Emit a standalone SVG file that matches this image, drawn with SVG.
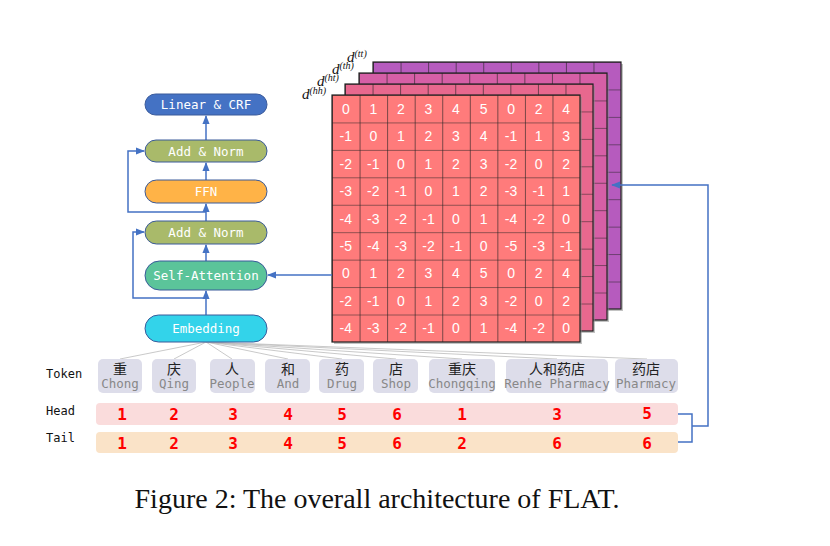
<svg xmlns="http://www.w3.org/2000/svg" width="830" height="546" viewBox="0 0 830 546">
<defs>
<style>
.n{stroke:#3a5a9a;stroke-width:1}
.nt{font-family:"DejaVu Sans Mono",monospace;font-size:12.5px;fill:#fff;text-anchor:middle}
.c{fill:none;stroke:#4472C4;stroke-width:1.5}
.g{fill:none;stroke:#bbb;stroke-width:0.8}
.tb{fill:#DDDDEA}
.zh{font-family:"Noto Sans CJK SC",sans-serif;font-size:14px;fill:#222;text-anchor:middle}
.en{font-family:"DejaVu Sans Mono",monospace;font-size:12.5px;fill:#888;text-anchor:middle}
.lb{font-family:"DejaVu Sans Mono",monospace;font-size:12px;fill:#111}
.num{font-family:"DejaVu Sans Mono",monospace;font-size:16px;fill:#f00;text-anchor:middle;font-weight:bold}
.mv{font-family:"Liberation Sans",sans-serif;font-size:14px;fill:#fff;text-anchor:middle}
.dl{font-family:"Liberation Serif",serif;font-style:italic;font-size:15px;fill:#111}
.sp{font-size:10px}
</style>
<marker id="a" viewBox="0 0 10 10" refX="9" refY="5" markerWidth="6" markerHeight="6" orient="auto"><path d="M0,1 L10,5 L0,9z" fill="#4472C4"/></marker>
<pattern id="p4" patternUnits="userSpaceOnUse" x="373" y="62" width="27.56" height="27.44"><path d="M0,0 H27.56 M0,0 V27.44" stroke="#222" fill="none" stroke-width="1.2"/></pattern>
<pattern id="p3" patternUnits="userSpaceOnUse" x="359" y="73" width="27.56" height="27.44"><path d="M0,0 H27.56 M0,0 V27.44" stroke="#222" fill="none" stroke-width="1.2"/></pattern>
<pattern id="p2" patternUnits="userSpaceOnUse" x="345" y="84" width="27.56" height="27.44"><path d="M0,0 H27.56 M0,0 V27.44" stroke="#222" fill="none" stroke-width="1.2"/></pattern>
<pattern id="p1" patternUnits="userSpaceOnUse" x="332" y="95" width="27.56" height="27.44"><path d="M0,0 H27.56 M0,0 V27.44" stroke="#222" fill="none" stroke-width="1.2"/></pattern>
</defs>
<rect width="830" height="546" fill="#fff"/>
<g id="matrix">
<rect x="375" y="64" width="248" height="247" fill="#888" opacity="0.5"/>
<rect x="373" y="62" width="248" height="247" fill="#B65BBE"/>
<rect x="373" y="62" width="248" height="247" fill="url(#p4)" stroke="#222" stroke-width="1.2"/>
<rect x="361" y="75" width="248" height="247" fill="#888" opacity="0.5"/>
<rect x="359" y="73" width="248" height="247" fill="#D65FA6"/>
<rect x="359" y="73" width="248" height="247" fill="url(#p3)" stroke="#222" stroke-width="1.2"/>
<rect x="347" y="86" width="248" height="247" fill="#888" opacity="0.5"/>
<rect x="345" y="84" width="248" height="247" fill="#E8688E"/>
<rect x="345" y="84" width="248" height="247" fill="url(#p2)" stroke="#222" stroke-width="1.2"/>
<rect x="334" y="97" width="248" height="247" fill="#888" opacity="0.5"/>
<rect x="332" y="95" width="248" height="247" fill="#FF7B7B"/>
<rect x="332" y="95" width="248" height="247" fill="url(#p1)" stroke="#222" stroke-width="1.2"/>
<text class="dl" x="347" y="62">d<tspan class="sp" dy="-5">(tt)</tspan></text>
<text class="dl" x="332" y="74">d<tspan class="sp" dy="-5">(th)</tspan></text>
<text class="dl" x="317" y="86">d<tspan class="sp" dy="-5">(ht)</tspan></text>
<text class="dl" x="302" y="99">d<tspan class="sp" dy="-5">(hh)</tspan></text>
<g class="mv">
<text x="345.8" y="113.7">0</text><text x="373.3" y="113.7">1</text><text x="400.9" y="113.7">2</text><text x="428.5" y="113.7">3</text><text x="456" y="113.7">4</text><text x="483.6" y="113.7">5</text><text x="511.1" y="113.7">0</text><text x="538.7" y="113.7">2</text><text x="566.2" y="113.7">4</text>
<text x="345.8" y="141.2">-1</text><text x="373.3" y="141.2">0</text><text x="400.9" y="141.2">1</text><text x="428.5" y="141.2">2</text><text x="456" y="141.2">3</text><text x="483.6" y="141.2">4</text><text x="511.1" y="141.2">-1</text><text x="538.7" y="141.2">1</text><text x="566.2" y="141.2">3</text>
<text x="345.8" y="168.6">-2</text><text x="373.3" y="168.6">-1</text><text x="400.9" y="168.6">0</text><text x="428.5" y="168.6">1</text><text x="456" y="168.6">2</text><text x="483.6" y="168.6">3</text><text x="511.1" y="168.6">-2</text><text x="538.7" y="168.6">0</text><text x="566.2" y="168.6">2</text>
<text x="345.8" y="196">-3</text><text x="373.3" y="196">-2</text><text x="400.9" y="196">-1</text><text x="428.5" y="196">0</text><text x="456" y="196">1</text><text x="483.6" y="196">2</text><text x="511.1" y="196">-3</text><text x="538.7" y="196">-1</text><text x="566.2" y="196">1</text>
<text x="345.8" y="223.5">-4</text><text x="373.3" y="223.5">-3</text><text x="400.9" y="223.5">-2</text><text x="428.5" y="223.5">-1</text><text x="456" y="223.5">0</text><text x="483.6" y="223.5">1</text><text x="511.1" y="223.5">-4</text><text x="538.7" y="223.5">-2</text><text x="566.2" y="223.5">0</text>
<text x="345.8" y="250.9">-5</text><text x="373.3" y="250.9">-4</text><text x="400.9" y="250.9">-3</text><text x="428.5" y="250.9">-2</text><text x="456" y="250.9">-1</text><text x="483.6" y="250.9">0</text><text x="511.1" y="250.9">-5</text><text x="538.7" y="250.9">-3</text><text x="566.2" y="250.9">-1</text>
<text x="345.8" y="278.3">0</text><text x="373.3" y="278.3">1</text><text x="400.9" y="278.3">2</text><text x="428.5" y="278.3">3</text><text x="456" y="278.3">4</text><text x="483.6" y="278.3">5</text><text x="511.1" y="278.3">0</text><text x="538.7" y="278.3">2</text><text x="566.2" y="278.3">4</text>
<text x="345.8" y="305.8">-2</text><text x="373.3" y="305.8">-1</text><text x="400.9" y="305.8">0</text><text x="428.5" y="305.8">1</text><text x="456" y="305.8">2</text><text x="483.6" y="305.8">3</text><text x="511.1" y="305.8">-2</text><text x="538.7" y="305.8">0</text><text x="566.2" y="305.8">2</text>
<text x="345.8" y="333.2">-4</text><text x="373.3" y="333.2">-3</text><text x="400.9" y="333.2">-2</text><text x="428.5" y="333.2">-1</text><text x="456" y="333.2">0</text><text x="483.6" y="333.2">1</text><text x="511.1" y="333.2">-4</text><text x="538.7" y="333.2">-2</text><text x="566.2" y="333.2">0</text>
</g>
</g>
<g id="connectors">
<path class="g" d="M206,342 L120,359 M206,342 L174,359 M206,342 L232,359 M206,342 L288,359 M206,342 L342,359 M206,342 L396,359 M206,342 L462,359 M206,342 L557,359 M206,342 L647,359"/>
<path class="c" d="M206,315 V291" marker-end="url(#a)"/>
<path class="c" d="M206,298 H133 V232 H144" marker-end="url(#a)"/>
<path class="c" d="M206,261 V245" marker-end="url(#a)"/>
<path class="c" d="M206,221 V204" marker-end="url(#a)"/>
<path class="c" d="M206,212 H128 V151 H144" marker-end="url(#a)"/>
<path class="c" d="M206,180 V163" marker-end="url(#a)"/>
<path class="c" d="M206,140 V116" marker-end="url(#a)"/>
<path class="c" d="M332,275 H268" marker-end="url(#a)"/>
<path class="c" d="M678,414 H692 V442 H678 M692,426 H708 V185 H612" marker-end="url(#a)"/>
</g>
<g id="linear"><rect class="n" x="145" y="94" width="122" height="21" rx="10.5" fill="#4472C4"/><text class="nt" x="206" y="109">Linear &amp; CRF</text></g>
<g id="addnorm2"><rect class="n" x="145" y="140" width="122" height="22" rx="11" fill="#A9BA6A"/><text class="nt" x="206" y="155.5">Add &amp; Norm</text></g>
<g id="ffn"><rect class="n" x="145" y="180" width="122" height="23" rx="11.5" fill="#FFB347"/><text class="nt" x="206" y="196">FFN</text></g>
<g id="addnorm1"><rect class="n" x="145" y="221" width="122" height="23" rx="11.5" fill="#A9BA6A"/><text class="nt" x="206" y="237">Add &amp; Norm</text></g>
<g id="selfatt"><rect class="n" x="145" y="261" width="122" height="29" rx="14.5" fill="#5BC49A"/><text class="nt" x="206" y="280" font-size="11.5">Self-Attention</text></g>
<g id="embedding"><rect class="n" x="145" y="315" width="122" height="27" rx="13.5" fill="#33D3EA"/><text class="nt" x="206" y="333">Embedding</text></g>
<g id="tokens">
<text class="lb" x="46" y="378">Token</text>
<rect class="tb" x="98" y="359" width="44" height="34" rx="5"/><text class="zh" x="120" y="374">重</text><text class="en" x="120" y="388">Chong</text>
<rect class="tb" x="152" y="359" width="44" height="34" rx="5"/><text class="zh" x="174" y="374">庆</text><text class="en" x="174" y="388">Qing</text>
<rect class="tb" x="210" y="359" width="45" height="34" rx="5"/><text class="zh" x="232" y="374">人</text><text class="en" x="232" y="388">People</text>
<rect class="tb" x="265" y="359" width="45" height="34" rx="5"/><text class="zh" x="288" y="374">和</text><text class="en" x="288" y="388">And</text>
<rect class="tb" x="319" y="359" width="45" height="34" rx="5"/><text class="zh" x="342" y="374">药</text><text class="en" x="342" y="388">Drug</text>
<rect class="tb" x="373" y="359" width="45" height="34" rx="5"/><text class="zh" x="396" y="374">店</text><text class="en" x="396" y="388">Shop</text>
<rect class="tb" x="429" y="359" width="66" height="34" rx="5"/><text class="zh" x="462" y="374">重庆</text><text class="en" x="462" y="388">Chongqing</text>
<rect class="tb" x="506" y="359" width="102" height="34" rx="5"/><text class="zh" x="557" y="374">人和药店</text><text class="en" x="557" y="388" font-size="11.5">Renhe Pharmacy</text>
<rect class="tb" x="615" y="359" width="63" height="34" rx="5"/><text class="zh" x="646" y="374">药店</text><text class="en" x="646" y="388">Pharmacy</text>
</g>
<g id="head">
<text class="lb" x="46" y="415">Head</text>
<rect x="96" y="403" width="582" height="22" rx="4" fill="#FADCDC"/>
<text class="num" x="122" y="420">1</text><text class="num" x="174" y="420">2</text><text class="num" x="233" y="420">3</text><text class="num" x="288" y="420">4</text><text class="num" x="342" y="420">5</text><text class="num" x="397" y="420">6</text><text class="num" x="462" y="420">1</text><text class="num" x="557" y="420">3</text><text class="num" x="647" y="419">5</text>
</g>
<g id="tail">
<text class="lb" x="46" y="442">Tail</text>
<rect x="96" y="432" width="582" height="21" rx="4" fill="#FAE3C8"/>
<text class="num" x="122" y="449">1</text><text class="num" x="174" y="449">2</text><text class="num" x="233" y="449">3</text><text class="num" x="288" y="449">4</text><text class="num" x="342" y="449">5</text><text class="num" x="397" y="449">6</text><text class="num" x="462" y="449">2</text><text class="num" x="557" y="449">6</text><text class="num" x="647" y="449">6</text>
</g>
<text x="377" y="508" font-family="Liberation Serif,serif" font-size="28" text-anchor="middle" fill="#111">Figure 2: The overall architecture of FLAT.</text>
</svg>
